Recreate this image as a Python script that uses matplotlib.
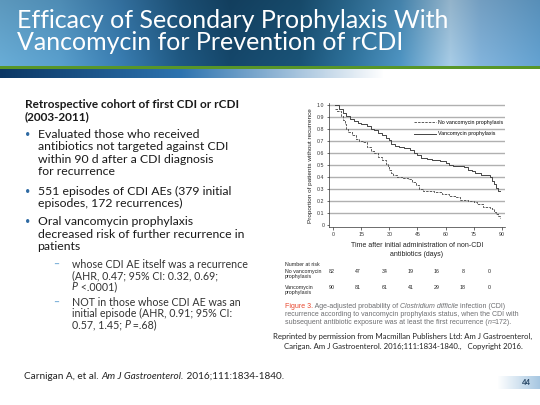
import numpy as np
import matplotlib.pyplot as plt

W, H = 540, 405

# curve values (days, proportion without recurrence)
vanco_days = [1, 3, 5, 7, 9, 11, 13, 15, 18, 20, 22, 24, 26, 28, 30, 31, 33, 35, 38, 41,
              43, 45, 47, 50, 53, 57, 60, 62, 64, 67, 70, 72, 74, 76, 79, 83, 84, 85, 86, 87,
              88, 89]
vanco_surv = [1.0, 0.97, 0.94, 0.91, 0.89, 0.87, 0.85, 0.84, 0.83, 0.80, 0.79, 0.77, 0.75, 0.73,
              0.71, 0.68, 0.66, 0.65, 0.64, 0.63, 0.60, 0.58, 0.56, 0.55, 0.54, 0.53, 0.52, 0.50,
              0.49, 0.49, 0.48, 0.46, 0.45, 0.43, 0.42, 0.42, 0.40, 0.37, 0.34, 0.31, 0.28, 0.28]
novanco_days = [1, 2, 4, 5, 6, 7, 8, 10, 12, 14, 16, 18, 20, 22, 24, 26, 28, 29, 30, 31,
                32, 34, 37, 40, 42, 44, 46, 48, 50, 54, 58, 62, 65, 68, 72, 75, 77, 80, 84, 85,
                86, 87, 88, 89]
novanco_surv = [0.97, 0.95, 0.91, 0.88, 0.84, 0.80, 0.78, 0.75, 0.72, 0.70, 0.69, 0.65, 0.62, 0.60,
                0.57, 0.54, 0.51, 0.49, 0.46, 0.43, 0.42, 0.40, 0.39, 0.38, 0.36, 0.33, 0.30, 0.28,
                0.28, 0.27, 0.26, 0.24, 0.23, 0.21, 0.20, 0.19, 0.17, 0.15, 0.14, 0.13, 0.11, 0.09,
                0.07, 0.06]

xticks = [0, 15, 30, 45, 60, 75, 90]
yticks = [0, 0.1, 0.2, 0.3, 0.4, 0.5, 0.6, 0.7, 0.8, 0.9, 1.0]
ytick_labels = ['0', '0.1', '0.2', '0.3', '0.4', '0.5', '0.6', '0.7', '0.8', '0.9', '1.0']

risk_novanco = [82, 47, 34, 19, 16, 8, 0]
risk_vanco = [90, 81, 61, 41, 29, 18, 0]


def fx(px):
    return px / W


def fy(py):
    return 1 - py / H


def ramp(xs, keys, cols):
    cols = np.array(cols, dtype=float)
    return np.stack([np.interp(xs, keys, cols[:, k]) for k in range(3)], axis=-1)


def after(prev, s, **kw):
    # continue a line of text right after the previous piece
    return ax_bg.annotate(s, xy=(1, 0.5), xycoords=prev, va='center', **kw)


fig = plt.figure(figsize=(5.4, 4.05), dpi=100)

# ---- slide background (header photo, rules, page tab) ----
bg = np.ones((H, W, 3))
xs = np.arange(W)
head = ramp(xs, [0, 60, 120, 180, 230, 300, 350, 400, 450, 480, 540],
            [(100, 165, 205), (85, 152, 196), (55, 120, 170), (30, 85, 125), (20, 68, 102),
             (25, 80, 115), (45, 110, 150), (75, 142, 186), (160, 195, 220), (125, 172, 210),
             (95, 155, 200)]) / 255
shade = np.linspace(0.92, 1.05, 66)[:, None, None]
bg[:66] = np.clip(head[None, :, :] * shade, 0, 1)
bg[66:69] = np.array([88, 150, 40]) / 255
band = ramp(xs, [0, 180, 383, 540], [(12, 55, 100), (45, 115, 175), (255, 255, 255), (255, 255, 255)]) / 255
bg[69:78] = band[None, :, :]
tab = ramp(np.arange(497, 540), [497, 540], [(255, 255, 255), (165, 198, 225)]) / 255
bg[376:389, 497:540] = tab[None, :, :]

ax_bg = fig.add_axes([0, 0, 1, 1])
ax_bg.imshow(bg, aspect='auto', extent=(0, W, H, 0))
ax_bg.axis('off')

# ---- title ----
fig.text(fx(17), fy(27.5), 'Efficacy of Secondary Prophylaxis With', color='white',
         fontsize=18, family='Lato', va='baseline')
fig.text(fx(17), fy(50), 'Vancomycin for Prevention of rCDI', color='white',
         fontsize=18, family='Lato', va='baseline')

# ---- left text ----
body = dict(family='Lato', fontsize=8.8, va='center', color='#1a1a1a')
head_kw = dict(family='Lato', fontsize=8.5, va='center', color='#1a1a1a', fontweight='bold')
fig.text(fx(25), fy(104), 'Retrospective cohort of first CDI or rCDI', **head_kw)
fig.text(fx(25), fy(116.5), '(2003-2011)', **head_kw)

bullets = [
    (134, ['Evaluated those who received', 'antibiotics not targeted against CDI',
           'within 90 d after a CDI diagnosis', 'for recurrence']),
    (191, ['551 episodes of CDI AEs (379 initial', 'episodes, 172 recurrences)']),
    (221.5, ['Oral vancomycin prophylaxis', 'decreased risk of further recurrence in', 'patients']),
]
for y0, lines in bullets:
    fig.text(fx(25.5), fy(y0), '\u2022', color='#2e6aa3', family='Lato', fontsize=6.5, va='center')
    for i, line in enumerate(lines):
        fig.text(fx(37.5), fy(y0 + i * 12.6), line, **body)

subkw = dict(family='Lato', fontsize=7.7, color='#333333')
sub = dict(va='center', **subkw)
dash = dict(color='#7fb2da', family='Lato', fontsize=7.7, va='center', fontweight='bold')
fig.text(fx(53), fy(264), '\u2013', **dash)
fig.text(fx(71.5), fy(264), 'whose CDI AE itself was a recurrence', **sub)
fig.text(fx(71.5), fy(275.5), '(AHR, 0.47; 95% CI: 0.32, 0.69;', **sub)
t = fig.text(fx(71.5), fy(286.5), 'P', style='italic', **sub)
after(t, ' <.0001)', **subkw)

fig.text(fx(53), fy(302), '\u2013', **dash)
fig.text(fx(71.5), fy(302), 'NOT in those whose CDI AE was an', **sub)
fig.text(fx(71.5), fy(313.5), 'initial episode (AHR, 0.91; 95% CI:', **sub)
t = fig.text(fx(71.5), fy(325), '0.57, 1.45; ', **sub)
t = after(t, 'P', style='italic', **subkw)
after(t, ' =.68)', **subkw)

# ---- citation + page number ----
cit = dict(family='Lato', fontsize=7.2, color='#222222')
t = fig.text(fx(24), fy(376.5), 'Carnigan A, et al. ', va='center', **cit)
t = after(t, 'Am J Gastroenterol.', style='italic', **cit)
after(t, ' 2016;111:1834-1840.', **cit)
fig.text(fx(531), fy(382.5), '44', family='Lato', fontsize=5.5, fontweight='bold',
         color='#2b4a68', ha='right', va='center')

# ---- survival chart ----
ax = fig.add_axes([fx(329), fy(227.3), fx(505) - fx(329), fy(103) - fy(227.3)])
ax.patch.set_alpha(0)
for yv in yticks[1:]:
    ax.axhline(yv, color='#b0b0b0', lw=1.0, zorder=0)
l1, = ax.plot(novanco_days, novanco_surv, drawstyle='steps-post', color='#5a5a5a', lw=0.7,
              dashes=(2.5, 1.2), label='No vancomycin prophylaxis')
l2, = ax.plot(vanco_days, vanco_surv, drawstyle='steps-post', color='#444444', lw=0.7,
              label='Vancomycin prophylaxis')
ax.set_xlim(-2.3, 91.8)
ax.set_ylim(-0.022, 1.02)
ax.set_xticks(xticks)
ax.set_yticks(yticks)
ax.set_yticklabels(ytick_labels)
ax.tick_params(labelsize=3.8, length=1.8, width=0.5, pad=1.5, colors='#333333')
for lab in ax.get_xticklabels() + ax.get_yticklabels():
    lab.set_family('Liberation Sans')
for s in ['top', 'right']:
    ax.spines[s].set_visible(False)
for s in ['left', 'bottom']:
    ax.spines[s].set_linewidth(0.5)
    ax.spines[s].set_color('#333333')
ax.set_ylabel('Proportion of patients without recurrence', fontsize=4.6,
              family='Liberation Sans', labelpad=3, color='#222222')
ax.legend(handles=[l1, l2], loc='upper left',
          bbox_to_anchor=((412 - 329) / 176, (227.3 - 118) / 124.3),
          frameon=False, handlelength=4.2, handletextpad=0.3, labelspacing=1.2,
          borderaxespad=0, prop={'family': 'Liberation Sans', 'size': 3.8})

lab = dict(family='Liberation Sans', fontsize=5, ha='center', va='center', color='#222222')
fig.text(fx(417), fy(245.7), 'Time after initial administration of non-CDI', **lab)
fig.text(fx(417), fy(254), 'antibiotics (days)', **lab)

# number at risk
small = dict(family='Liberation Sans', fontsize=3.8, va='center', color='#222222')
fig.text(fx(285), fy(265), 'Number at risk', **small)
fig.text(fx(285), fy(271.7), 'No vancomycin', **small)
fig.text(fx(285), fy(276.7), 'prophylaxis', **small)
fig.text(fx(285), fy(287.7), 'Vancomycin', **small)
fig.text(fx(285), fy(292.3), 'prophylaxis', **small)
for d, a, b in zip(xticks, risk_novanco, risk_vanco):
    xp = 332 + d * 26.2 / 15
    fig.text(fx(xp), fy(271.7), str(a), ha='center', **small)
    fig.text(fx(xp), fy(287.7), str(b), ha='center', **small)

# figure caption
cap = dict(family='Liberation Sans', fontsize=5.0, color='#6d6e71')
t = fig.text(fx(285), fy(306), 'Figure 3.', va='center', family='Liberation Sans', fontsize=5.0,
             color='#e8452c')
t = after(t, ' Age-adjusted probability of ', **cap)
t = after(t, 'Clostridium difficile', style='italic', **cap)
after(t, ' infection (CDI)', **cap)
fig.text(fx(285), fy(314), 'recurrence according to vancomycin prophylaxis status, when the CDI with',
         va='center', **cap)
t = fig.text(fx(285), fy(322), 'subsequent antibiotic exposure was at least the first recurrence (',
             va='center', **cap)
t = after(t, 'n', style='italic', **cap)
after(t, '=172).', **cap)

rep = dict(family='Lato', fontsize=5.6, color='#222222', ha='center', va='center')
fig.text(fx(403), fy(336.5), 'Reprinted by permission from Macmillan Publishers Ltd: Am J Gastroenterol,', **rep)
fig.text(fx(403), fy(346), 'Carigan. Am J Gastroenterol. 2016;111:1834-1840.,   Copyright 2016.', **rep)

fig.savefig('out.png', dpi=100)
